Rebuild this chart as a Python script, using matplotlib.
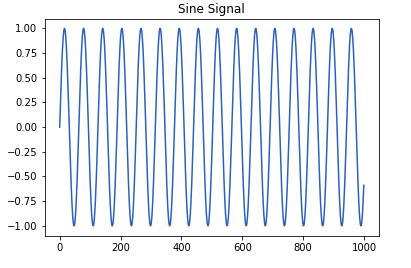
import numpy as np
import matplotlib
matplotlib.use("Agg")
import matplotlib.pyplot as plt

# Signal: 1000 samples, one period every ~62.8 samples
# (sin(0.1 * n)), ending near -0.59 at sample 999.
n_samples = 1000
step = 0.1

samples = np.arange(n_samples)
signal = np.sin(step * samples)

fig = plt.figure(figsize=(411 / 72, 268 / 72), dpi=72)
ax = fig.add_axes([44.5 / 411, 1 - 235.7 / 268, (379 - 44.5) / 411, (235.7 - 18.5) / 268])
ax.plot(samples, signal, color='#2a60c0', linewidth=1.5)
ax.set_title("Sine Signal", fontsize=12)
ax.set_yticks([-1.0, -0.75, -0.5, -0.25, 0.0, 0.25, 0.5, 0.75, 1.0])
ax.set_xticks([0, 200, 400, 600, 800, 1000])
ax.tick_params(labelsize=10)

fig.savefig("out.png", dpi=72)
